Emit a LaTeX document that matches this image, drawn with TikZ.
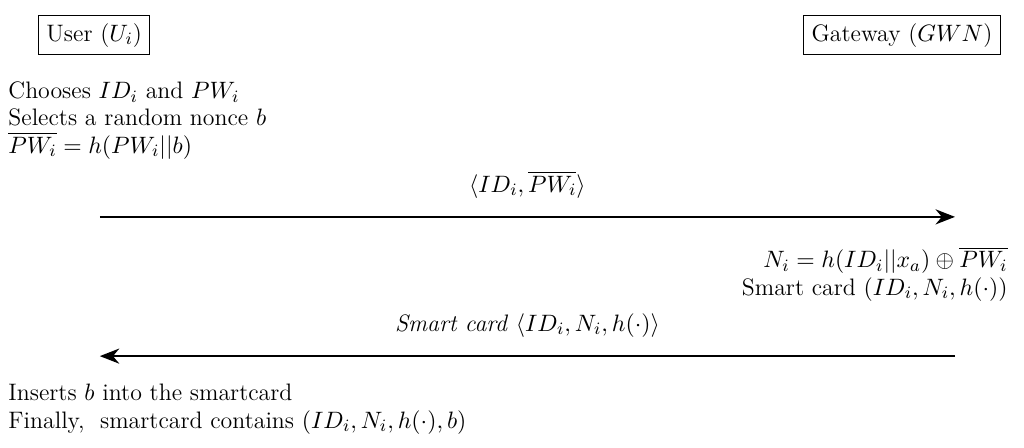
\documentclass[tikz,border=0pt]{standalone}
\usepackage{amsmath}
\usetikzlibrary{arrows.meta}

\begin{document}
\begin{tikzpicture}[
  font=\fontsize{11}{12.6}\selectfont,
  party/.style={draw, inner sep=3.6pt},
  msg/.style={thick, -{Stealth[length=9pt,width=7pt]}},
  steps/.style={align=left, inner sep=0pt}]
  % canvas
  \useasboundingbox (0,0) rectangle (16.62,7.27);

  % the two parties
  \node[party] (user) at (1.53,6.70) {User ($U_i$)};
  \node[party] (gwn) at (14.64,6.70) {Gateway ($GWN$)};

  % user side, first step
  \node[steps, anchor=north west] (usr1) at (0.13,5.95)
    {Chooses $ID_i$ and $PW_i$\\ Selects a random nonce $b$\\ $\overline{PW_i}=h(PW_i||b)$};

  \coordinate (m1l) at (1.62,3.75);
  \coordinate (m1r) at (15.5,3.75);
  \draw[msg] (m1l) -- node[above=5pt] {$\langle ID_i,\overline{PW_i}\rangle$} (m1r);

  % gateway side
  \node[steps, anchor=north east, align=right] (gw1) at (16.36,3.27)
    {$N_i=h(ID_i||x_a)\oplus\overline{PW_i}$\\ Smart card $(ID_i,N_i,h(\cdot))$};

  \coordinate (m2r) at (15.5,1.49);
  \coordinate (m2l) at (1.62,1.49);
  \draw[msg] (m2r) -- node[above=5pt] {\textit{Smart card} $\langle ID_i,N_i,h(\cdot)\rangle$} (m2l);

  % user side, last step
  \node[steps, anchor=north west] (usr2) at (0.13,1.04)
    {Inserts $b$ into the smartcard\\ Finally,\ \ smartcard contains $(ID_i,N_i,h(\cdot),b)$};
\end{tikzpicture}
\end{document}
